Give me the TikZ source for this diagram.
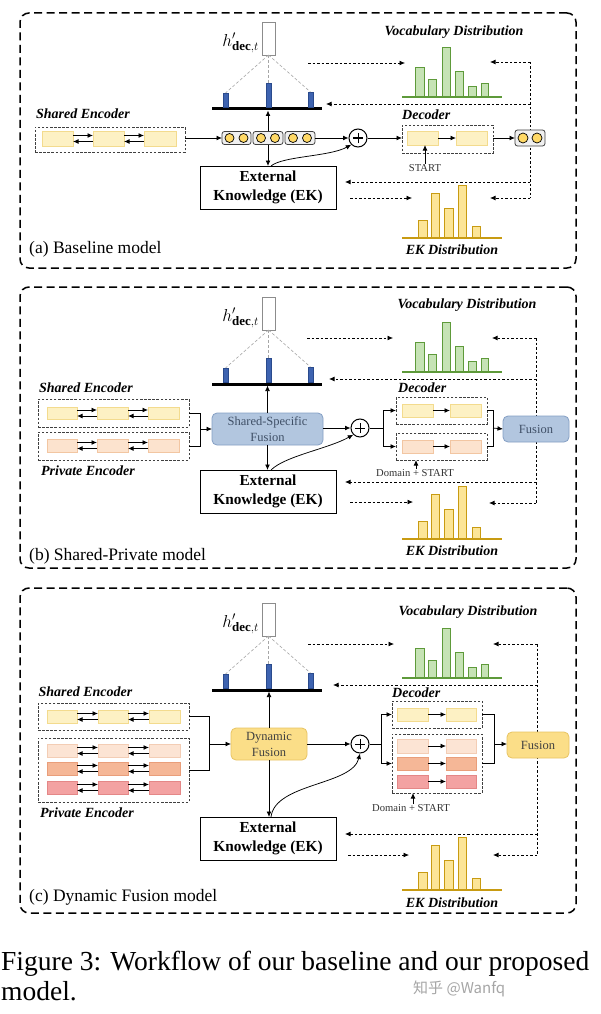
\documentclass[tikz,border=0pt]{standalone}
\usepackage{fontspec}
\setmainfont{Liberation Serif}
\newfontfamily\cjkfont{Noto Sans CJK SC}
\usetikzlibrary{arrows.meta}
\definecolor{encY}{HTML}{FDF1C4}
\definecolor{encYd}{HTML}{F3DB8E}
\definecolor{encP}{HTML}{FCE3CE}
\definecolor{encPd}{HTML}{F2C6A2}
\definecolor{rowA}{HTML}{FCE4D4}
\definecolor{rowAd}{HTML}{F3CDB5}
\definecolor{rowB}{HTML}{F5B797}
\definecolor{rowBd}{HTML}{E99E7A}
\definecolor{rowC}{HTML}{F3A2A2}
\definecolor{rowCd}{HTML}{E48787}
\definecolor{attB}{HTML}{3E63B0}
\definecolor{attBd}{HTML}{2A4A8C}
\definecolor{vocF}{HTML}{C6E3B5}
\definecolor{vocD}{HTML}{5E9A3A}
\definecolor{ekF}{HTML}{FCE597}
\definecolor{ekD}{HTML}{C89B12}
\definecolor{circF}{HTML}{FFD966}
\definecolor{ssF}{HTML}{B2C6DF}
\definecolor{ssD}{HTML}{849FC4}
\definecolor{ssT}{HTML}{3F4F66}
\definecolor{dfF}{HTML}{FBDE88}
\definecolor{dfD}{HTML}{E8C463}

\newcommand\mybox[7]{%
  \pgfmathsetmacro\mbx{(#3+#5)/2}%
  \pgfmathsetmacro\mby{(#4+#6)/2}%
  \pgfmathsetmacro\mbw{#5-#3}%
  \pgfmathsetmacro\mbh{#6-#4}%
  \node[rect,#2,minimum width=\mbw pt,minimum height=\mbh pt] (#1) at (\mbx,\mby) {#7};}
\newcommand\encarr[2]{%
  \draw[arr] ([yshift=3pt]#1.east) -- ([yshift=3pt]#2.west);
  \draw[arr] ([yshift=-3pt]#2.west) -- ([yshift=-3pt]#1.east);}
\newcommand\vocdist[2]{%
  \begin{scope}[shift={(0,#2)}]
  \mybox{#1voc1}{vbar}{415}{-30}{424}{0}{}
  \mybox{#1voc2}{vbar}{428}{-18}{436}{0}{}
  \mybox{#1voc3}{vbar}{442}{-50}{450}{0}{}
  \mybox{#1voc4}{vbar}{455}{-26}{463}{0}{}
  \mybox{#1voc5}{vbar}{468}{-11}{476}{0}{}
  \mybox{#1voc6}{vbar}{481}{-14}{488}{0}{}
  \draw[vocD,line width=2.6pt] (402,0) -- (502,0);
  \end{scope}}
\newcommand\ekdist[2]{%
  \begin{scope}[shift={(0,#2)}]
  \mybox{#1ekb1}{ebar}{418}{-18}{427}{0}{}
  \mybox{#1ekb2}{ebar}{431}{-45}{439}{0}{}
  \mybox{#1ekb3}{ebar}{444}{-30}{453}{0}{}
  \mybox{#1ekb4}{ebar}{458}{-53}{466}{0}{}
  \mybox{#1ekb5}{ebar}{472}{-12}{480}{0}{}
  \draw[ekD,line width=2.6pt] (402,0) -- (502,0);
  \end{scope}}
\newcommand\attn[2]{%
  \begin{scope}[shift={(0,#2)}]
  \mybox{#1base}{fill=black}{212}{-1.5}{322}{1.5}{}
  \mybox{#1att1}{blueb}{223}{-16}{228}{-1.5}{}
  \mybox{#1att2}{blueb}{266}{-26}{271}{-1.5}{}
  \mybox{#1att3}{blueb}{308}{-17}{313}{-1.5}{}
  \mybox{#1hbox}{draw=black!45,fill=white,line width=0.9pt}{262}{-87}{275}{-54}{}
  \node[font=\fontsize{18.5}{20}\selectfont,anchor=east,inner sep=0pt] (#1hlab) at (259,-66) {$h'_{\mathbf{dec},t}$};
  \draw[gl] (#1hbox.south) -- (#1att1.north);
  \draw[gl] (#1hbox.south) -- (#1att2.north);
  \draw[gl] (#1hbox.south) -- (#1att3.north);
  \end{scope}}
\newcommand\ekbox[2]{\pgfmathsetmacro\ekb{#2+43}\mybox{#1ek}{ekst}{200}{#2}{336}{\ekb}{External\\Knowledge (EK)}}
\newcommand\stc[2]{\draw[fill=circF,line width=0.7pt] (#1,#2) circle[radius=4.5pt];}

\begin{document}
\begin{tikzpicture}[x=1pt,y=-1pt,
  rect/.style={inner sep=0pt,outer sep=0pt},
  panel/.style={draw=black,line width=1.5pt,dash pattern=on 8pt off 4.5pt,rounded corners=9pt},
  cont/.style={draw=black!75,line width=0.8pt,dash pattern=on 2.5pt off 1.6pt},
  yb/.style={fill=encY,draw=encYd,line width=0.6pt},
  pb/.style={fill=encP,draw=encPd,line width=0.6pt},
  ra/.style={fill=rowA,draw=rowAd,line width=0.6pt},
  rb/.style={fill=rowB,draw=rowBd,line width=0.6pt},
  rc/.style={fill=rowC,draw=rowCd,line width=0.6pt},
  arr/.style={-{Latex[length=5.5pt,width=4.8pt]},line width=0.75pt},
  dln/.style={line width=0.7pt,dash pattern=on 2.5pt off 2pt},
  darr/.style={-{Latex[length=5.5pt,width=4.8pt]},line width=0.7pt,dash pattern=on 2.5pt off 2pt},
  gl/.style={draw=black!35,line width=0.6pt,dash pattern=on 3pt off 2pt},
  blueb/.style={fill=attB,draw=attBd,line width=0.4pt},
  vbar/.style={fill=vocF,draw=vocD,line width=0.9pt},
  ebar/.style={fill=ekF,draw=ekD,line width=0.9pt},
  lab/.style={font=\fontsize{14}{16}\selectfont\bfseries\itshape,inner sep=0pt},
  plab/.style={font=\fontsize{17.5}{19}\selectfont,inner sep=0pt,anchor=west},
  ekst/.style={draw=black,line width=1pt,fill=white,align=center,font=\fontsize{15.3}{19}\selectfont\bfseries},
  stbox/.style={draw=black!75,fill=black!6,line width=0.8pt,rounded corners=2.5pt},
  ssbox/.style={draw=ssD,fill=ssF,line width=0.8pt,rounded corners=5pt,align=center,text=ssT,font=\fontsize{12.5}{16}\selectfont},
  dfbox/.style={draw=dfD,fill=dfF,line width=0.8pt,rounded corners=5pt,align=center,text=black!75,font=\fontsize{12.5}{16}\selectfont},
  sm/.style={font=\fontsize{10.6}{12}\selectfont,text=black!80,inner sep=0pt},
  capt/.style={anchor=base west,inner sep=0pt,font=\fontsize{27.5}{31}\selectfont},
  oplus/.style={circle,draw,line width=1pt,minimum size=18pt,inner sep=0pt,fill=white,
    path picture={\draw[line width=1pt] ([xshift=-5pt]path picture bounding box.center) -- ([xshift=5pt]path picture bounding box.center) ([yshift=-5pt]path picture bounding box.center) -- ([yshift=5pt]path picture bounding box.center);}},
  line/.style={line width=0.75pt}]
\useasboundingbox (0,0) rectangle (600,1014);
\fill[white] (0,0) rectangle (600,1014);

%%%%%%%%%%%%%%%% panel (a)
\mybox{pa}{panel}{20}{13}{576}{268}{}
\node[plab] (pa-lab) at (29,249) {(a) Baseline model};
\draw[dln] (530,62) -- (530,198);
\vocdist{a-}{97}
\node[lab] (a-vl) at (454,32) {Vocabulary Distribution};
\ekdist{a-}{238}
\node[lab] (a-el) at (452,250) {EK Distribution};
\attn{a-}{109}
\ekbox{a-}{166}
\node[lab] (a-sel) at (83,114) {Shared Encoder};
\mybox{a-sec}{cont}{35}{127}{185}{152}{}
\mybox{a-s1}{yb}{42}{131}{73}{146}{}
\mybox{a-s2}{yb}{93}{131}{124}{146}{}
\mybox{a-s3}{yb}{144}{131}{176}{146}{}
\encarr{a-s1}{a-s2}
\encarr{a-s2}{a-s3}
\mybox{a-h1}{stbox}{222}{131.5}{251}{144.5}{}
\mybox{a-h2}{stbox}{253}{131.5}{283}{144.5}{}
\mybox{a-h3}{stbox}{285}{131.5}{315}{144.5}{}
\stc{229.5}{138}\stc{243.5}{138}
\stc{261}{138}\stc{275}{138}
\stc{293}{138}\stc{307}{138}
\draw[arr] (a-sec.east |- a-h1.west) -- (a-h1.west);
\draw[arr] (a-h2.north) -- (a-h2.north |- a-base.south);
\draw[arr] (a-h2.south) -- (a-h2.south |- a-ek.north);
\node[oplus] (a-op) at (358,138) {};
\draw[arr] (a-h3.east) -- (a-op.west);
\draw[arr] ([xshift=3pt]a-ek.north) .. controls +(12,-10) and +(-22,12) .. (a-op.south west);
\node[lab,anchor=west] (a-dl) at (402,115) {Decoder};
\mybox{a-dec}{cont}{402}{125}{493}{153}{}
\mybox{a-d1}{yb}{407}{131}{438}{145}{}
\mybox{a-d2}{yb}{456}{131}{487}{145}{}
\draw[arr] (a-d1.east) -- (a-d2.west);
\node[sm] (a-start) at (425,168) {START};
\draw[arr] (a-start.north) -- (a-start.north |- a-d1.south);
\draw[arr] (a-op.east) -- (a-op.east -| a-dec.west);
\mybox{a-ss}{stbox}{515}{130}{545}{146}{}
\draw[fill=circF,line width=0.7pt] (523,138) circle[radius=5pt] (537,138) circle[radius=5pt];
\draw[arr] (a-dec.east |- a-ss.west) -- (a-ss.west);
\coordinate (a-p1) at (530,62);  \coordinate (a-q1) at (490,62);
\coordinate (a-p2) at (530,104); \coordinate (a-q2) at (326,104);
\coordinate (a-p3) at (530,182); \coordinate (a-q3) at (345,182);
\coordinate (a-p4) at (530,198); \coordinate (a-q4) at (490,198);
\coordinate (a-m1) at (308,63);  \coordinate (a-n1) at (405,63);
\coordinate (a-m2) at (350,198); \coordinate (a-n2) at (412,198);
\draw[darr] (a-p1) -- (a-q1);
\draw[darr] (a-p2) -- (a-q2);
\draw[darr] (a-p3) -- (a-q3);
\draw[darr] (a-p4) -- (a-q4);
\draw[darr] (a-m1) -- (a-n1);
\draw[darr] (a-m2) -- (a-n2);

%%%%%%%%%%%%%%%% panel (b)
\mybox{pbx}{panel}{20}{287}{576}{568}{}
\node[plab] (pb-lab) at (29,556) {(b) Shared-Private model};
\draw[dln] (536,338) -- (536,503);
\vocdist{b-}{372}
\node[lab] (b-vl) at (467,305) {Vocabulary Distribution};
\ekdist{b-}{539}
\node[lab] (b-el) at (452,551) {EK Distribution};
\attn{b-}{384}
\ekbox{b-}{470}
\node[lab] (b-sel) at (86,388) {Shared Encoder};
\mybox{b-sec}{cont}{38}{399}{189}{427}{}
\mybox{b-s1}{yb}{47}{407}{77}{419}{}
\mybox{b-s2}{yb}{97}{407}{128}{419}{}
\mybox{b-s3}{yb}{148}{407}{179}{419}{}
\encarr{b-s1}{b-s2}
\encarr{b-s2}{b-s3}
\mybox{b-pec}{cont}{38}{432}{189}{460}{}
\mybox{b-p1}{pb}{47}{439}{77}{452}{}
\mybox{b-p2}{pb}{97}{439}{128}{452}{}
\mybox{b-p3}{pb}{148}{439}{179}{452}{}
\encarr{b-p1}{b-p2}
\encarr{b-p2}{b-p3}
\node[lab] (b-pel) at (88,471) {Private Encoder};
\mybox{b-ssf}{ssbox}{212}{413}{323}{445}{Shared-Specific\\Fusion}
\coordinate (b-brk) at (200,429);
\draw[line] (b-sec.east) -| (b-brk);
\draw[line] (b-pec.east) -| (b-brk);
\draw[arr] (b-brk) -- (b-brk -| b-ssf.west);
\draw[arr] (b-ssf.north) -- (b-ssf.north |- b-base.south);
\draw[arr] (b-ssf.south) -- (b-ssf.south |- b-ek.north);
\node[oplus] (b-op) at (360,428) {};
\draw[arr] (b-ssf.east |- b-op.west) -- (b-op.west);
\draw[arr] ([xshift=3pt]b-ek.north) .. controls +(14,-14) and +(-25,14) .. (b-op.south west);
\node[lab,anchor=west] (b-dl) at (398,388) {Decoder};
\mybox{b-du}{cont}{396}{397}{487}{424}{}
\mybox{b-dd}{cont}{396}{433}{487}{460}{}
\mybox{b-d1}{yb}{402}{404}{433}{417}{}
\mybox{b-d2}{yb}{450}{404}{481}{417}{}
\mybox{b-d3}{pb}{402}{440}{433}{453}{}
\mybox{b-d4}{pb}{450}{440}{481}{453}{}
\draw[arr] (b-d1.east) -- (b-d2.west);
\draw[arr] (b-d3.east) -- (b-d4.west);
\coordinate (b-fk) at (383,428);
\draw[line] (b-op.east) -- (b-fk);
\draw[arr] (b-fk) |- (b-du.west);
\draw[arr] (b-fk) |- (b-dd.west);
\mybox{b-fus}{ssbox}{503}{416}{569}{442}{Fusion}
\coordinate (b-fr) at (493,428);
\draw[line] (b-du.east) -| (b-fr);
\draw[line] (b-dd.east) -| (b-fr);
\draw[arr] (b-fr) -- (b-fus.west);
\node[sm] (b-start) at (415,473) {Domain + START};
\draw[arr] ([xshift=1pt]b-start.north) -- ([xshift=1pt]b-start.north |- b-dd.south);
\coordinate (b-p1) at (536,338); \coordinate (b-q1) at (492,338);
\coordinate (b-p2) at (536,379); \coordinate (b-q2) at (329,379);
\coordinate (b-p3) at (536,482); \coordinate (b-q3) at (345,482);
\coordinate (b-p4) at (536,503); \coordinate (b-q4) at (489,503);
\coordinate (b-m1) at (307,338); \coordinate (b-n1) at (393,338);
\coordinate (b-m2) at (350,502); \coordinate (b-n2) at (413,502);
\draw[darr] (b-p1) -- (b-q1);
\draw[darr] (b-p2) -- (b-q2);
\draw[darr] (b-p3) -- (b-q3);
\draw[darr] (b-p4) -- (b-q4);
\draw[darr] (b-m1) -- (b-n1);
\draw[darr] (b-m2) -- (b-n2);

%%%%%%%%%%%%%%%% panel (c)
\mybox{pcx}{panel}{20}{588}{576}{913}{}
\node[plab] (pc-lab) at (29,897) {(c) Dynamic Fusion model};
\draw[dln] (537,644) -- (537,855);
\vocdist{c-}{678}
\node[lab] (c-vl) at (468,612) {Vocabulary Distribution};
\ekdist{c-}{890}
\node[lab] (c-el) at (452,903) {EK Distribution};
\attn{c-}{690}
\ekbox{c-}{817}
\node[lab] (c-sel) at (85.5,692) {Shared Encoder};
\mybox{c-sec}{cont}{38}{703}{189}{730}{}
\mybox{c-s1}{yb}{47}{710}{77}{723}{}
\mybox{c-s2}{yb}{98}{710}{128}{723}{}
\mybox{c-s3}{yb}{149}{710}{180}{723}{}
\encarr{c-s1}{c-s2}
\encarr{c-s2}{c-s3}
\mybox{c-pec}{cont}{38}{738}{189}{802}{}
\mybox{c-a1}{ra}{47}{744}{77}{757}{}
\mybox{c-a2}{ra}{98}{744}{128}{757}{}
\mybox{c-a3}{ra}{149}{744}{180}{757}{}
\mybox{c-b1}{rb}{47}{762}{77}{775}{}
\mybox{c-b2}{rb}{98}{762}{128}{775}{}
\mybox{c-b3}{rb}{149}{762}{180}{775}{}
\mybox{c-c1}{rc}{47}{781}{77}{794}{}
\mybox{c-c2}{rc}{98}{781}{128}{794}{}
\mybox{c-c3}{rc}{149}{781}{180}{794}{}
\encarr{c-a1}{c-a2}
\encarr{c-a2}{c-a3}
\encarr{c-b1}{c-b2}
\encarr{c-b2}{c-b3}
\encarr{c-c1}{c-c2}
\encarr{c-c2}{c-c3}
\node[lab] (c-pel) at (87,813) {Private Encoder};
\mybox{c-df}{dfbox}{231}{728}{307}{760}{Dynamic\\Fusion}
\coordinate (c-brk) at (209,744);
\draw[line] (c-sec.east) -| (c-brk);
\draw[line] (c-pec.east) -| (c-brk);
\draw[arr] (c-brk) -- (c-df.west);
\draw[arr] (c-df.north) -- (c-df.north |- c-base.south);
\draw[arr] (c-df.south) -- (c-df.south |- c-ek.north);
\node[oplus] (c-op) at (360,744) {};
\draw[arr] (c-df.east) -- (c-op.west);
\draw[arr] ([xshift=3pt]c-ek.north) .. controls +(4,-34) and +(-8,32) .. (c-op.south);
\node[lab,anchor=west] (c-dl) at (392,693) {Decoder};
\mybox{c-du}{cont}{392}{701}{482}{728}{}
\mybox{c-dd}{cont}{392}{734}{482}{793}{}
\mybox{c-d1}{yb}{397}{708}{428}{721}{}
\mybox{c-d2}{yb}{446}{708}{476}{721}{}
\mybox{c-x1}{ra}{397}{739}{428}{753}{}
\mybox{c-x2}{ra}{446}{739}{476}{753}{}
\mybox{c-y1}{rb}{397}{757}{428}{770}{}
\mybox{c-y2}{rb}{446}{757}{476}{770}{}
\mybox{c-z1}{rc}{397}{775}{428}{788}{}
\mybox{c-z2}{rc}{446}{775}{476}{788}{}
\draw[arr] (c-d1.east) -- (c-d2.west);
\draw[arr] (c-x1.east) -- (c-x2.west);
\draw[arr] (c-y1.east) -- (c-y2.west);
\draw[arr] (c-z1.east) -- (c-z2.west);
\coordinate (c-fk) at (381,744);
\draw[line] (c-op.east) -- (c-fk);
\draw[arr] (c-fk) |- (c-du.west);
\draw[arr] (c-fk) |- (c-dd.west);
\mybox{c-fus}{dfbox}{507}{732}{569}{758}{Fusion}
\coordinate (c-fr) at (494,744);
\draw[line] (c-du.east) -| (c-fr);
\draw[line] (c-dd.east) -| (c-fr);
\draw[arr] (c-fr) -- (c-fr -| c-fus.west);
\node[sm] (c-start) at (411,808) {Domain + START};
\draw[arr] ([xshift=2pt]c-start.north) -- ([xshift=2pt]c-start.north |- c-dd.south);
\coordinate (c-p1) at (537,644); \coordinate (c-q1) at (493,644);
\coordinate (c-p2) at (537,685); \coordinate (c-q2) at (333,685);
\coordinate (c-p3) at (537,834); \coordinate (c-q3) at (345,834);
\coordinate (c-p4) at (537,855); \coordinate (c-q4) at (493,855);
\coordinate (c-m1) at (308,644); \coordinate (c-n1) at (394,644);
\coordinate (c-m2) at (348,855); \coordinate (c-n2) at (409,855);
\draw[darr] (c-p1) -- (c-q1);
\draw[darr] (c-p2) -- (c-q2);
\draw[darr] (c-p3) -- (c-q3);
\draw[darr] (c-p4) -- (c-q4);
\draw[darr] (c-m1) -- (c-n1);
\draw[darr] (c-m2) -- (c-n2);

%%%%%%%%%%%%%%%% caption
\node[capt] (cap1) at (1,970) {Figure 3: Workflow of our baseline and our proposed};
\node[capt] (cap2) at (1,1000) {model.};
\node[anchor=west,inner sep=0pt,text=black!35,font=\cjkfont\fontsize{15}{16}\selectfont] (wm) at (413,989) {知乎 @Wanfq};
\end{tikzpicture}
\end{document}
